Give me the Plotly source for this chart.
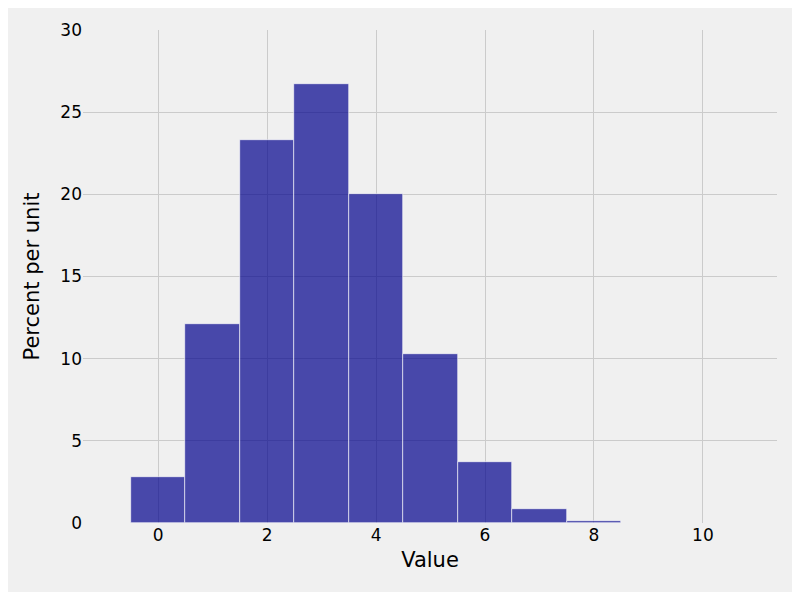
import plotly.graph_objects as go

# histogram bins (centres) and percent per unit
bin_centres = [0, 1, 2, 3, 4, 5, 6, 7, 8]
percent_per_unit = [2.8, 12.1, 23.3, 26.7, 20.0, 10.3, 3.7, 0.85, 0.1]

x_ticks = [0, 2, 4, 6, 8, 10]
y_ticks = [0, 5, 10, 15, 20, 25, 30]

fig = go.Figure(go.Bar(
    x=bin_centres, y=percent_per_unit, width=1,
    marker=dict(color="rgba(0,0,139,0.7)", line=dict(color="white", width=0.6)),
))

# page body adds an 8px margin, so size/margins compensate for it
fig.update_layout(
    width=784, height=584,
    paper_bgcolor="#f0f0f0", plot_bgcolor="#f0f0f0",
    margin=dict(l=75, r=15, t=22, b=69),
    font=dict(family="DejaVu Sans", size=17, color="black"),
    showlegend=False, bargap=0,
)
fig.update_xaxes(range=[-1.38, 11.36], tickvals=x_ticks, showgrid=True,
                 gridcolor="#cbcbcb", gridwidth=1, zeroline=False,
                 title=dict(text="Value", font=dict(size=21), standoff=8),
                 ticks="", showline=False)
fig.update_yaxes(range=[0, 30], tickvals=y_ticks, showgrid=True,
                 gridcolor="#cbcbcb", gridwidth=1, zeroline=False,
                 title=dict(text="Percent per unit", font=dict(size=21)), ticks="",
                 ticksuffix="  ", showline=False)

fig.write_html("out.html")
